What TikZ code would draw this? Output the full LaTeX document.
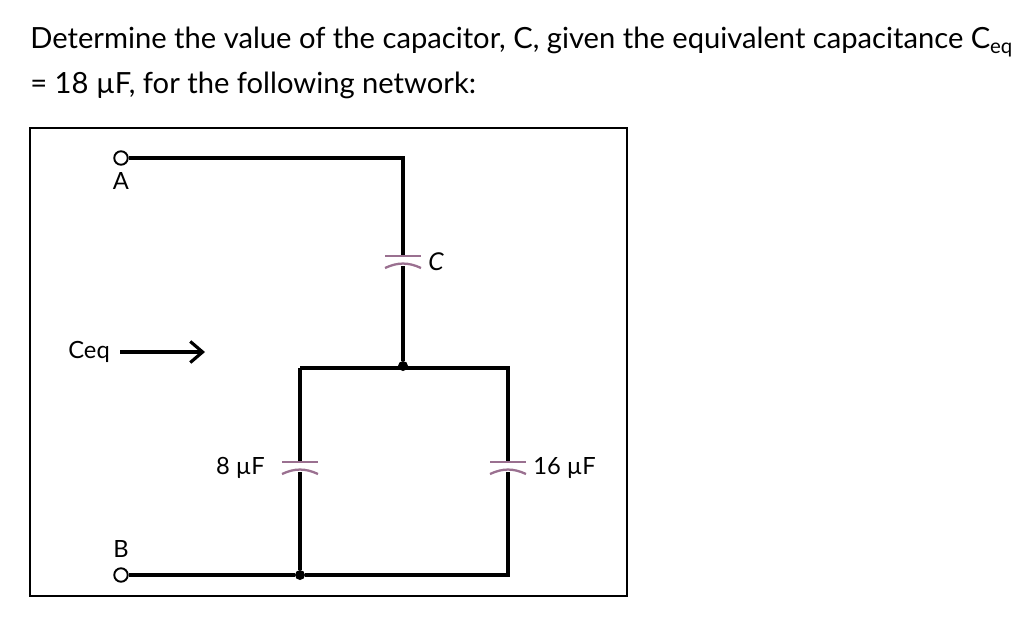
\documentclass[tikz,border=0pt]{standalone}
\usetikzlibrary{arrows.meta}
\usepackage{fontspec}
\setmainfont{Lato}
\begin{document}
\begin{tikzpicture}[x=0.02cm,y=-0.02cm,
  wire/.style={line width=1.8pt,black},
  term/.style={circle,draw,line width=1.1pt,inner sep=0pt,minimum size=0.27cm,fill=white},
  jdot/.style={circle,fill=black,inner sep=0pt,minimum size=0.2cm},
  lbl/.style={font=\fontsize{13.5}{15}\selectfont,inner sep=0pt},
  plate/.style={line width=1.3pt,color=capc}]
\definecolor{capc}{HTML}{9A7090}
\useasboundingbox (0,0) rectangle (1024,632);
\node[anchor=west,inner sep=0pt,font=\fontsize{16.6}{20}\selectfont] (t1) at (30,42) {Determine the value of the capacitor, C, given the equivalent capacitance C\textsubscript{eq}};
\node[anchor=west,inner sep=0pt,font=\fontsize{16.6}{20}\selectfont] (t2) at (30,85) {= 18 µF, for the following network:};
\draw[line width=1.1pt] (30,128) rectangle (627,596);
\node[term] (A) at (121,158) {};
\node[term] (B) at (121,575) {};
\coordinate (tr) at (403,158);
\node[jdot] (J1) at (403,366) {};
\node[jdot] (J2) at (300,575) {};
\coordinate (tl) at (300,368);
\coordinate (rt) at (508,368);
\coordinate (rb) at (508,575);
\draw[wire] (A) -- (tr) -- (J1);
\draw[wire] (tl) -- (rt) -- (rb) -- (J2) -- (B);
\draw[wire] (tl) -- (J2);
\node[lbl] (LA) at (121,181) {A};
\node[lbl] (LB) at (121,549) {B};
% capacitors
\foreach \x/\y in {403/262, 300/468, 508/468}{
  \fill[white] (\x-3,\y-5) rectangle (\x+3,\y+4);
  \draw[plate] (\x-18,\y-6) -- (\x+18,\y-6);
  \draw[plate] (\x-18,\y+6) to[bend left=25] (\x+18,\y+6);
}
\node[lbl,font=\fontsize{14}{16}\selectfont\rmfamily\itshape,anchor=west] (LC) at (428,262) {C};
\node[lbl,anchor=east] (L8) at (265,468) {8 µF};
\node[lbl,anchor=west] (L16) at (533,468) {16 µF};
\node[lbl,anchor=west] (Ceq) at (68,352) {Ceq};
\coordinate (ae) at (205,352);
\draw[line width=1.8pt,-{Straight Barb[length=7pt,width=12pt]}] (120,352) -- (ae);
\end{tikzpicture}
\end{document}
